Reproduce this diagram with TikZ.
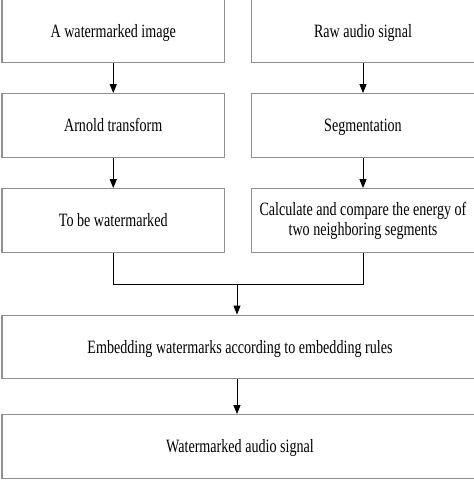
\documentclass[tikz,border=0pt]{standalone}
\usepackage{fontspec}
\setmainfont{Liberation Serif}[FakeStretch=0.75]
\usetikzlibrary{arrows.meta}
\definecolor{boxgray}{HTML}{909090}
\tikzset{
  box/.style={draw=boxgray, line width=1.3pt, rectangle, minimum height=63.5pt, inner sep=0pt, align=center, font=\fontsize{18.8}{20}\selectfont, text=black},
  oneline/.style={text height=12.4pt, text depth=0pt},
  halfbox/.style={box, minimum width=222.5pt},
  widebox/.style={box, minimum width=476pt},
  arr/.style={draw=black, line width=1pt, -{Triangle[length=9pt,width=7pt]}},
  link/.style={draw=black, line width=1pt}
}
\begin{document}
\begin{tikzpicture}[x=1pt,y=-1pt]
\useasboundingbox (0,0) rectangle (474,480);
\clip (0,0) rectangle (474,480);
\node[halfbox,oneline] (L1) at (113.25,31) {A watermarked image};
\node[halfbox,oneline] (R1) at (363,31) {Raw audio signal};
\node[halfbox,oneline] (L2) at (113.25,125.5) {Arnold transform};
\node[halfbox,oneline] (R2) at (363,125.5) {Segmentation};
\node[halfbox,oneline] (L3) at (113.25,220.5) {To be watermarked};
\node[halfbox] (R3) at (363,220.5) {Calculate and compare the energy of\\two neighboring segments};
\node[widebox,oneline] (E) at (240,347) {Embedding watermarks according to embedding rules};
\node[widebox,oneline] (W) at (240,446.5) {Watermarked audio signal};
\coordinate (m) at (237,284);
\draw[arr] (L1.south) -- (L2.north);
\draw[arr] (R1.south) -- (R2.north);
\draw[arr] (L2.south) -- (L3.north);
\draw[arr] (R2.south) -- (R3.north);
\draw[link] (L3.south) |- (m);
\draw[link] (R3.south) |- (m);
\draw[arr] (m) -- (m |- E.north);
\draw[arr] (E.south -| m) -- (W.north -| m);
\end{tikzpicture}
\end{document}
